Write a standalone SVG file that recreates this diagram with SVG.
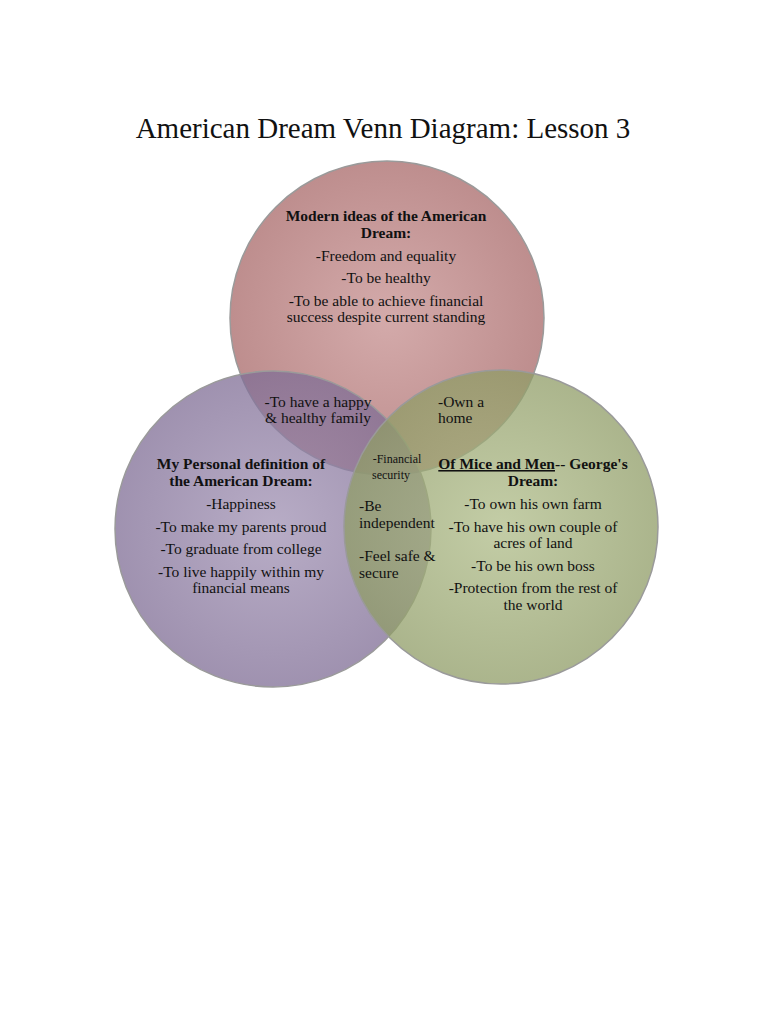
<svg xmlns="http://www.w3.org/2000/svg" width="768" height="1024" viewBox="0 0 768 1024">
<style>
text{font-family:"Liberation Serif","DejaVu Serif",serif;fill:#111;text-anchor:middle}
.t{font-size:15.5px}
.b{font-size:15.5px;font-weight:bold}
.s{font-size:12px}
.c{stroke:#9a9a9a;stroke-width:1.5;fill-opacity:0.75}
</style>
<defs>
<radialGradient id="gr"><stop offset="0" stop-color="#c58e8e"/><stop offset="1" stop-color="#a86868"/></radialGradient>
<radialGradient id="gp"><stop offset="0" stop-color="#a091b3"/><stop offset="1" stop-color="#7f6d95"/></radialGradient>
<radialGradient id="gg"><stop offset="0" stop-color="#afbc88"/><stop offset="1" stop-color="#8f9c66"/></radialGradient>
</defs>
<text x="383" y="138" style="font-size:29px">American Dream Venn Diagram: Lesson 3</text>
<g id="top"><circle class="c" cx="387" cy="318" r="157" fill="url(#gr)"/></g>
<g id="left"><circle class="c" cx="273" cy="529" r="158" fill="url(#gp)"/></g>
<g id="right"><circle class="c" cx="501" cy="527" r="157" fill="url(#gg)"/></g>
<g id="labels">
<text class="b" x="386" y="221">Modern ideas of the American</text>
<text class="b" x="386" y="238">Dream:</text>
<text class="t" x="386" y="261">-Freedom and equality</text>
<text class="t" x="386" y="283">-To be healthy</text>
<text class="t" x="386" y="306">-To be able to achieve financial</text>
<text class="t" x="386" y="322">success despite current standing</text>
<text class="t" x="318" y="407">-To have a happy</text>
<text class="t" x="318" y="423">&amp; healthy family</text>
<text class="t" x="438" y="407" style="text-anchor:start">-Own a</text>
<text class="t" x="438" y="423" style="text-anchor:start">home</text>
<text class="s" x="397" y="463">-Financial</text>
<text class="s" x="391" y="479">security</text>
<text class="t" x="359" y="511" style="text-anchor:start">-Be</text>
<text class="t" x="359" y="528" style="text-anchor:start">independent</text>
<text class="t" x="359" y="561" style="text-anchor:start">-Feel safe &amp;</text>
<text class="t" x="359" y="578" style="text-anchor:start">secure</text>
<text class="b" x="241" y="469">My Personal definition of</text>
<text class="b" x="241" y="486">the American Dream:</text>
<text class="t" x="241" y="509">-Happiness</text>
<text class="t" x="241" y="532">-To make my parents proud</text>
<text class="t" x="241" y="554">-To graduate from college</text>
<text class="t" x="241" y="577">-To live happily within my</text>
<text class="t" x="241" y="593">financial means</text>
<text class="b" x="533" y="469"><tspan text-decoration="underline">Of Mice and Men</tspan>-- George's</text>
<text class="b" x="533" y="486">Dream:</text>
<text class="t" x="533" y="509">-To own his own farm</text>
<text class="t" x="533" y="532">-To have his own couple of</text>
<text class="t" x="533" y="548">acres of land</text>
<text class="t" x="533" y="571">-To be his own boss</text>
<text class="t" x="533" y="593">-Protection from the rest of</text>
<text class="t" x="533" y="610">the world</text>
</g>
</svg>
